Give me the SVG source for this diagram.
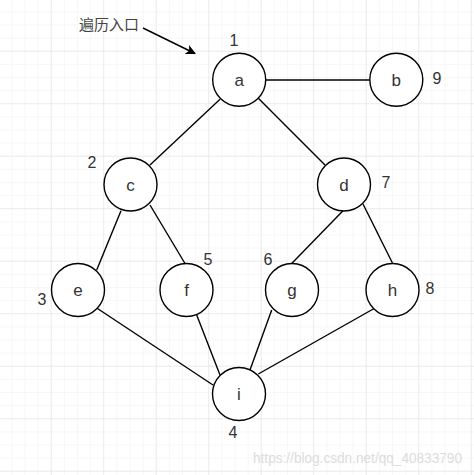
<svg xmlns="http://www.w3.org/2000/svg" width="474" height="475" viewBox="0 0 474 475">
<defs>
<pattern id="minor" patternUnits="userSpaceOnUse" x="-0.8" y="-0.8" width="13.125" height="13.125">
<path d="M13.125 0V13.125M0 13.125H13.125" fill="none" stroke="#f0f0f0" stroke-width="1"/>
</pattern>
<pattern id="major" patternUnits="userSpaceOnUse" x="-0.8" y="-0.8" width="52.5" height="52.5">
<path d="M52.5 0V52.5M0 52.5H52.5" fill="none" stroke="#e0e0e0" stroke-width="1"/>
</pattern>
<marker id="arrow" viewBox="0 0 10 10" refX="9" refY="5" markerWidth="10" markerHeight="10" markerUnits="userSpaceOnUse" orient="auto">
<path d="M0 0L10 5L0 10L2.5 5Z" fill="#000"/>
</marker>
<style>
.node circle{fill:#fff;stroke:#000;stroke-width:1.4}
.node text{font-family:"Liberation Sans",Arial,sans-serif;font-size:17px;fill:#333;text-anchor:middle;dominant-baseline:central}
.num{font-family:"Liberation Sans",Arial,sans-serif;font-size:16px;fill:#333;text-anchor:middle;dominant-baseline:central}
#edges line{stroke:#000;stroke-width:1.4}
</style>
</defs>
<rect width="474" height="475" fill="#fff"/>
<rect width="474" height="475" fill="url(#minor)"/>
<rect width="474" height="475" fill="url(#major)"/>

<g id="entry">
<text x="109" y="23" font-family="'Noto Sans CJK SC',sans-serif" font-size="15" fill="#444" text-anchor="middle" dominant-baseline="central">遍历入口</text>
<line x1="143" y1="28" x2="195" y2="53.5" stroke="#000" stroke-width="1.4" marker-end="url(#arrow)"/>
</g>

<g id="edges">
<line x1="265.7" y1="80" x2="370" y2="80"/>
<line x1="220" y1="99.3" x2="150" y2="165"/>
<line x1="258.3" y1="98.3" x2="325" y2="165"/>
<line x1="121" y1="210.7" x2="96.7" y2="270"/>
<line x1="150" y1="205" x2="185" y2="263.5"/>
<line x1="343" y1="210.7" x2="291.7" y2="263.5"/>
<line x1="363" y1="204" x2="392.7" y2="263.5"/>
<line x1="96.7" y1="308" x2="213" y2="385"/>
<line x1="196.7" y1="315" x2="220" y2="375"/>
<line x1="271.7" y1="310" x2="250" y2="370"/>
<line x1="375" y1="308" x2="258.3" y2="374"/>
</g>

<g id="node-a" class="node"><circle cx="239.2" cy="79.7" r="26.5"/><text x="239.2" y="80">a</text></g>
<g id="node-b" class="node"><circle cx="396.3" cy="79.7" r="26.5"/><text x="396.3" y="80">b</text></g>
<g id="node-c" class="node"><circle cx="130.5" cy="184.5" r="26.5"/><text x="130.5" y="185">c</text></g>
<g id="node-d" class="node"><circle cx="344" cy="184.5" r="26.5"/><text x="344" y="185">d</text></g>
<g id="node-e" class="node"><circle cx="78" cy="290" r="26.5"/><text x="78" y="290">e</text></g>
<g id="node-f" class="node"><circle cx="186.5" cy="290" r="26.5"/><text x="186.5" y="290">f</text></g>
<g id="node-g" class="node"><circle cx="292" cy="290" r="26.5"/><text x="292" y="290">g</text></g>
<g id="node-h" class="node"><circle cx="392.5" cy="290" r="26.5"/><text x="392.5" y="290">h</text></g>
<g id="node-i" class="node"><circle cx="239" cy="394" r="26.5"/><text x="239" y="394">i</text></g>

<g id="numbers">
<text class="num" x="234" y="40">1</text>
<text class="num" x="92" y="162">2</text>
<text class="num" x="42" y="299">3</text>
<text class="num" x="233" y="432">4</text>
<text class="num" x="208" y="259">5</text>
<text class="num" x="268" y="259">6</text>
<text class="num" x="386" y="182">7</text>
<text class="num" x="430" y="288">8</text>
<text class="num" x="437" y="78">9</text>
</g>

<text x="253" y="458" font-family="'Liberation Sans',Arial,sans-serif" font-size="14" fill="#dcdcdc" dominant-baseline="central" textLength="209" lengthAdjust="spacingAndGlyphs">https://blog.csdn.net/qq_40833790</text>
</svg>
